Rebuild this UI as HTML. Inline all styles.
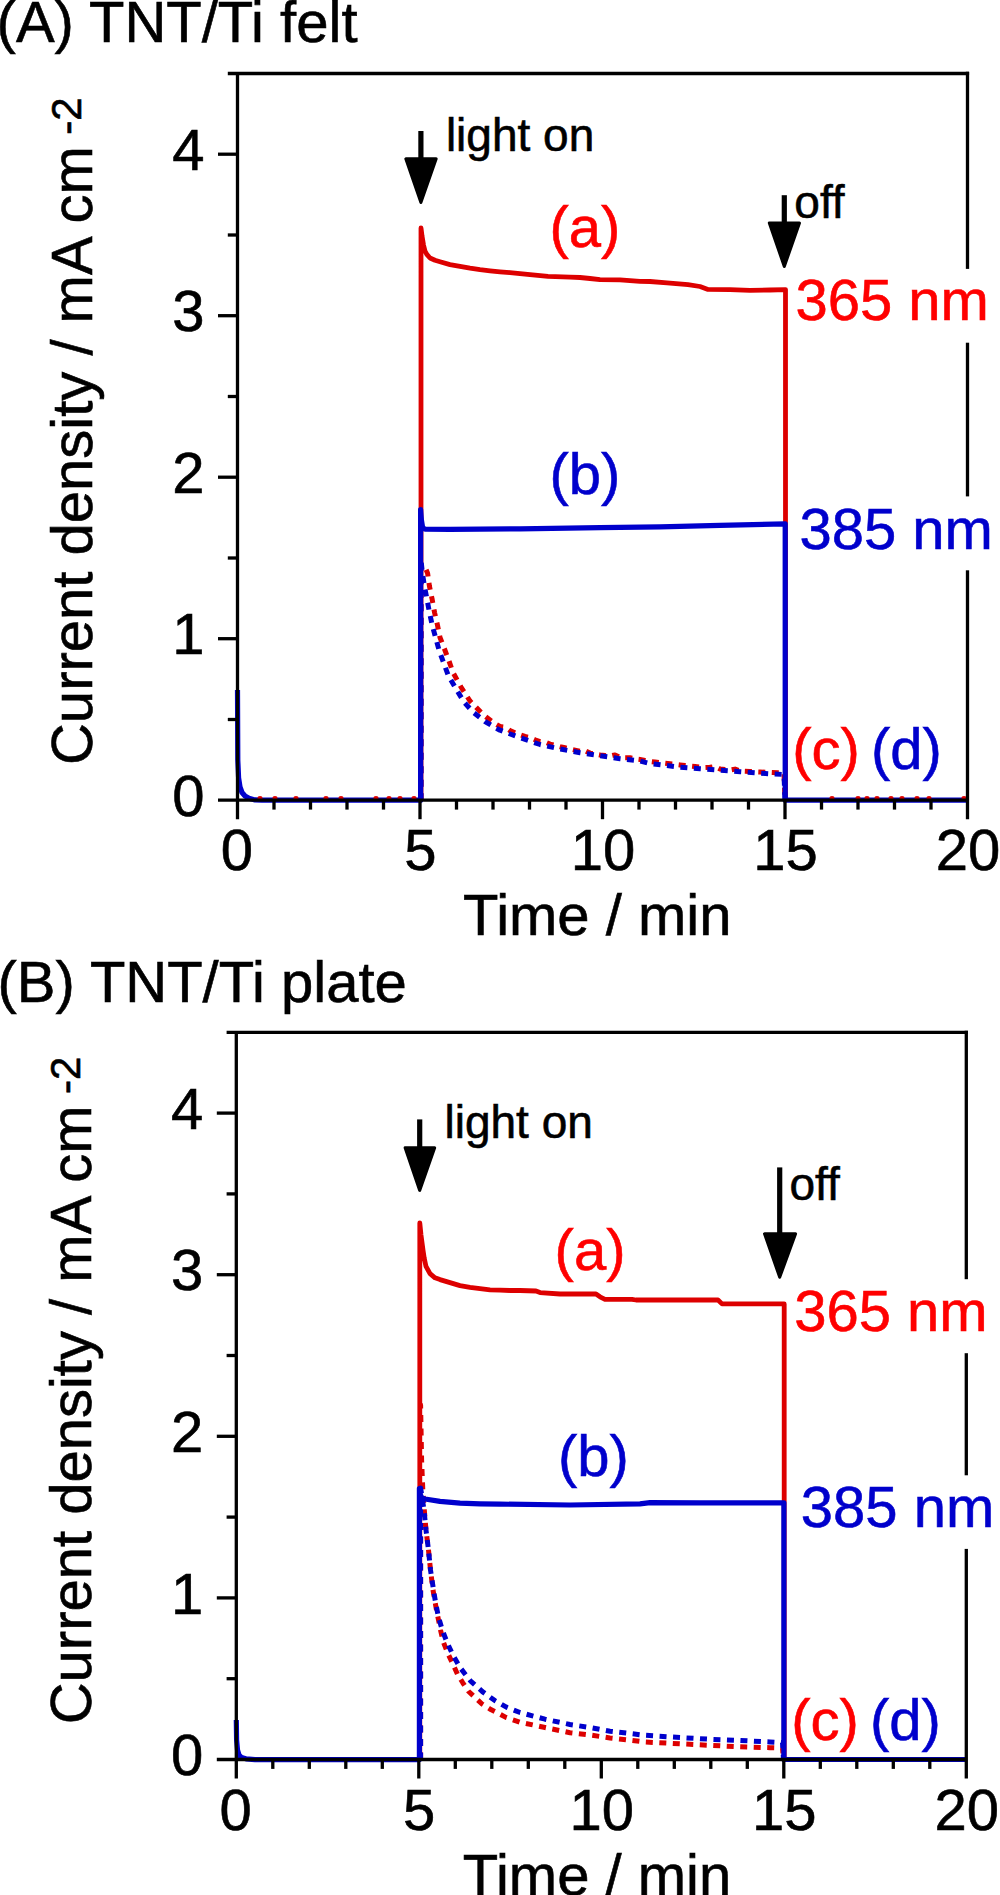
<!DOCTYPE html>
<html><head><meta charset="utf-8"><title>TNT/Ti photocurrent</title>
<style>html,body{margin:0;padding:0;background:#fff;overflow:hidden;}svg{display:block;}</style>
</head><body>
<svg width="1000" height="1895" viewBox="0 0 1000 1895" font-family="'Liberation Sans', Arial, Helvetica, sans-serif" stroke-width="0.6">
<rect width="1000" height="1895" fill="#fff"/>
<g fill="none" stroke-linejoin="round" stroke-linecap="butt">
<polyline points="421.0,800.2 421.0,228.0 422.0,236.0 423.5,245.0 425.0,251.0 426.8,254.4 430.0,258.0 435.0,260.3 440.0,261.8 450.0,264.6 460.0,266.4 470.0,268.2 480.0,269.7 490.0,270.8 500.0,271.8 510.0,272.6 520.0,273.6 530.0,274.7 548.0,276.4 570.0,277.1 580.0,277.5 590.0,278.5 600.0,279.6 620.0,279.9 640.0,281.4 650.0,281.5 667.0,282.9 688.0,284.7 700.0,286.5 708.0,289.4 730.0,289.6 750.0,290.3 770.0,290.0 785.5,289.6 785.5,800.2" stroke="#dd0000" stroke-width="4.8"/>
<polyline points="421.0,800.2 421.0,565.0 424.5,566.0 427.6,573.2 429.4,586.0 432.2,599.6 434.6,612.8 437.4,624.8 440.0,637.5 444.5,649.0 449.0,661.0 453.0,672.5 461.0,687.0 470.0,701.0 483.0,714.5 494.0,723.0 500.0,726.5 505.0,727.1 510.0,730.6 515.0,732.7 520.0,734.7 525.0,736.4 530.0,737.6 535.0,739.8 540.0,741.5 545.0,741.9 550.0,744.1 555.0,745.4 560.0,746.7 565.0,747.8 570.0,749.0 575.0,750.1 580.0,751.2 585.0,750.6 590.0,753.1 595.0,754.0 600.0,755.0 605.0,755.5 610.0,756.1 615.0,754.9 620.0,757.2 625.0,757.8 630.0,757.8 635.0,758.9 640.0,759.5 645.0,760.5 650.0,761.5 655.0,762.1 660.0,762.7 665.0,763.2 670.0,763.8 675.0,764.4 680.0,765.0 685.0,765.5 690.0,766.0 695.0,766.5 700.0,767.0 705.0,767.5 710.0,767.3 715.0,766.4 720.0,769.0 725.0,769.5 730.0,770.0 735.0,769.1 740.0,771.0 745.0,771.2 750.0,771.5 755.0,771.8 760.0,772.0 766.0,772.2 772.0,772.5 778.0,772.8 784.0,773.0 785.0,800.2" stroke="#dd0000" stroke-width="5.0" stroke-dasharray="7 6.5"/>
<polyline points="421.0,800.2 421.0,560.0 422.4,573.0 424.4,586.0 427.0,599.2 429.0,610.0 432.0,624.4 435.5,637.3 439.0,650.0 443.5,662.5 448.5,676.0 455.5,688.0 464.0,702.0 473.0,712.0 485.0,721.5 496.0,728.0 500.0,730.2 520.0,737.7 540.0,744.5 560.0,749.0 580.0,752.7 600.0,755.7 620.0,758.7 640.0,761.0 650.0,763.5 680.0,767.2 700.0,768.7 720.0,770.2 740.0,771.7 760.0,773.2 784.0,774.5 785.0,800.2" stroke="#0000cc" stroke-width="5.0" stroke-dasharray="7 6.5"/>
<polyline points="237.5,690.0 237.8,760.0 238.6,778.0 240.0,787.0 242.0,792.5 245.0,796.0 249.0,798.3 255.0,799.9 262.0,800.2 420.6,800.2 420.6,509.5 421.4,520.0 422.6,527.5 425.0,529.2 450.0,529.3 520.0,528.8 600.0,527.6 660.0,526.8 720.0,525.3 785.2,523.8 785.2,800.2 967.4,800.2" stroke="#0000cc" stroke-width="5.2"/>
<ellipse cx="260.0" cy="797.9" rx="2.6" ry="2.0" fill="#dd0000" stroke="none"/>
<ellipse cx="275.0" cy="797.9" rx="2.6" ry="2.0" fill="#dd0000" stroke="none"/>
<ellipse cx="296.0" cy="797.9" rx="2.6" ry="2.0" fill="#dd0000" stroke="none"/>
<ellipse cx="326.0" cy="797.9" rx="2.6" ry="2.0" fill="#dd0000" stroke="none"/>
<ellipse cx="341.0" cy="797.9" rx="2.6" ry="2.0" fill="#dd0000" stroke="none"/>
<ellipse cx="376.0" cy="797.9" rx="2.6" ry="2.0" fill="#dd0000" stroke="none"/>
<ellipse cx="389.0" cy="797.9" rx="2.6" ry="2.0" fill="#dd0000" stroke="none"/>
<ellipse cx="400.0" cy="797.9" rx="2.6" ry="2.0" fill="#dd0000" stroke="none"/>
<ellipse cx="414.0" cy="797.9" rx="2.6" ry="2.0" fill="#dd0000" stroke="none"/>
<ellipse cx="832.0" cy="797.9" rx="2.6" ry="2.0" fill="#dd0000" stroke="none"/>
<ellipse cx="858.0" cy="797.9" rx="2.6" ry="2.0" fill="#dd0000" stroke="none"/>
<ellipse cx="867.0" cy="797.9" rx="2.6" ry="2.0" fill="#dd0000" stroke="none"/>
<ellipse cx="877.0" cy="797.9" rx="2.6" ry="2.0" fill="#dd0000" stroke="none"/>
<ellipse cx="891.0" cy="797.9" rx="2.6" ry="2.0" fill="#dd0000" stroke="none"/>
<ellipse cx="902.0" cy="797.9" rx="2.6" ry="2.0" fill="#dd0000" stroke="none"/>
<ellipse cx="917.0" cy="797.9" rx="2.6" ry="2.0" fill="#dd0000" stroke="none"/>
<ellipse cx="929.0" cy="797.9" rx="2.6" ry="2.0" fill="#dd0000" stroke="none"/>
<ellipse cx="964.0" cy="797.9" rx="2.6" ry="2.0" fill="#dd0000" stroke="none"/>
</g>
<g stroke="#000" stroke-width="3.3" fill="none">
<line x1="237.5" y1="73.5" x2="237.5" y2="819.2"/>
<line x1="227.8" y1="73.5" x2="969.1" y2="73.5"/>
<line x1="218.0" y1="800.2" x2="967.5" y2="800.2"/>
<line x1="967.5" y1="71.8" x2="967.5" y2="819.2"/>
<line x1="227.8" y1="719.5" x2="237.5" y2="719.5"/>
<line x1="218.0" y1="638.7" x2="237.5" y2="638.7"/>
<line x1="227.8" y1="558.0" x2="237.5" y2="558.0"/>
<line x1="218.0" y1="477.2" x2="237.5" y2="477.2"/>
<line x1="227.8" y1="396.5" x2="237.5" y2="396.5"/>
<line x1="218.0" y1="315.7" x2="237.5" y2="315.7"/>
<line x1="227.8" y1="235.0" x2="237.5" y2="235.0"/>
<line x1="218.0" y1="154.2" x2="237.5" y2="154.2"/>
<line x1="274.0" y1="800.2" x2="274.0" y2="809.6"/>
<line x1="310.5" y1="800.2" x2="310.5" y2="809.6"/>
<line x1="347.0" y1="800.2" x2="347.0" y2="809.6"/>
<line x1="383.5" y1="800.2" x2="383.5" y2="809.6"/>
<line x1="420.0" y1="800.2" x2="420.0" y2="819.2"/>
<line x1="456.5" y1="800.2" x2="456.5" y2="809.6"/>
<line x1="493.0" y1="800.2" x2="493.0" y2="809.6"/>
<line x1="529.5" y1="800.2" x2="529.5" y2="809.6"/>
<line x1="566.0" y1="800.2" x2="566.0" y2="809.6"/>
<line x1="602.5" y1="800.2" x2="602.5" y2="819.2"/>
<line x1="639.0" y1="800.2" x2="639.0" y2="809.6"/>
<line x1="675.5" y1="800.2" x2="675.5" y2="809.6"/>
<line x1="712.0" y1="800.2" x2="712.0" y2="809.6"/>
<line x1="748.5" y1="800.2" x2="748.5" y2="809.6"/>
<line x1="785.0" y1="800.2" x2="785.0" y2="819.2"/>
<line x1="821.5" y1="800.2" x2="821.5" y2="809.6"/>
<line x1="858.0" y1="800.2" x2="858.0" y2="809.6"/>
<line x1="894.5" y1="800.2" x2="894.5" y2="809.6"/>
<line x1="931.0" y1="800.2" x2="931.0" y2="809.6"/>
</g>
<text x="204.5" y="815.8" font-size="58" fill="#000" stroke="#000" text-anchor="end">0</text>
<text x="204.5" y="654.3" font-size="58" fill="#000" stroke="#000" text-anchor="end">1</text>
<text x="204.5" y="492.8" font-size="58" fill="#000" stroke="#000" text-anchor="end">2</text>
<text x="204.5" y="331.3" font-size="58" fill="#000" stroke="#000" text-anchor="end">3</text>
<text x="204.5" y="169.8" font-size="58" fill="#000" stroke="#000" text-anchor="end">4</text>
<text x="236.8" y="870.2" font-size="58" fill="#000" stroke="#000" text-anchor="middle">0</text>
<text x="420.4" y="870.2" font-size="58" fill="#000" stroke="#000" text-anchor="middle">5</text>
<text x="602.9" y="870.2" font-size="58" fill="#000" stroke="#000" text-anchor="middle">10</text>
<text x="785.4" y="870.2" font-size="58" fill="#000" stroke="#000" text-anchor="middle">15</text>
<text x="967.9" y="870.2" font-size="58" fill="#000" stroke="#000" text-anchor="middle">20</text>
<text x="91.7" y="765.0" font-size="58" stroke="#000" transform="rotate(-90 91.7 765.0)">Current density / mA cm</text>
<text x="81.2" y="134.7" font-size="42" stroke="#000" transform="rotate(-90 81.2 134.7)">-2</text>
<text x="462.9" y="934.5" font-size="58" fill="#000" stroke="#000">Time / min</text>
<text x="-3.4" y="42.4" font-size="58" fill="#000" stroke="#000">(A) TNT/Ti felt</text>
<line x1="420.9" y1="131.0" x2="420.9" y2="160.2" stroke="#000" stroke-width="5.2"/>
<polygon points="405.8,158.8 436.2,158.8 420.9,202.5" fill="#000" stroke="#000" stroke-width="3" stroke-linejoin="round"/>
<line x1="784.3" y1="195.2" x2="784.3" y2="224.5" stroke="#000" stroke-width="5.2"/>
<polygon points="769.3,223.0 799.5,223.0 784.3,266.5" fill="#000" stroke="#000" stroke-width="3" stroke-linejoin="round"/>
<text x="445.9" y="150.7" font-size="46" fill="#000" stroke="#000">light on</text>
<text x="794.3" y="218.0" font-size="46" fill="#000" stroke="#000">off</text>
<text x="549.5" y="247.0" font-size="58" fill="#ff0000" stroke="#ff0000">(a)</text>
<rect x="791" y="268.9" width="204" height="73.80000000000001" fill="#fff"/>
<text x="795.4" y="320.2" font-size="58" fill="#ff0000" stroke="#ff0000">365 nm</text>
<text x="549.4" y="494.0" font-size="58" fill="#0000cc" stroke="#0000cc">(b)</text>
<rect x="795" y="496.4" width="203" height="73.89999999999998" fill="#fff"/>
<text x="799.4" y="548.7" font-size="58" fill="#0000cc" stroke="#0000cc">385 nm</text>
<text x="792.2" y="768.5" font-size="58" fill="#ff0000" stroke="#ff0000">(c)</text>
<text x="870.9" y="768.5" font-size="58" fill="#0000cc" stroke="#0000cc">(d)</text>
<g fill="none" stroke-linejoin="round" stroke-linecap="butt">
<polyline points="419.8,1759.5 419.8,1223.0 421.0,1235.0 423.0,1250.0 424.2,1258.0 426.0,1266.4 430.0,1273.6 435.0,1277.8 440.0,1279.6 450.0,1282.6 460.0,1285.6 470.0,1287.4 480.0,1288.6 490.0,1289.8 500.0,1290.2 510.0,1290.5 520.0,1290.5 536.0,1291.0 540.0,1292.6 560.0,1294.0 596.0,1294.0 600.0,1296.8 605.0,1299.3 632.0,1299.3 636.0,1300.0 718.0,1300.0 722.0,1303.9 784.2,1303.9 784.2,1759.5" stroke="#dd0000" stroke-width="4.8"/>
<polyline points="420.6,1759.5 420.6,1405.0 421.6,1460.0 422.8,1490.0 424.3,1510.0 426.0,1530.0 428.5,1550.0 430.5,1570.0 433.0,1590.0 436.5,1610.0 440.5,1630.0 443.2,1641.6 447.6,1652.8 453.2,1664.8 457.6,1674.4 462.8,1682.8 468.4,1691.2 475.2,1697.6 482.0,1704.0 490.8,1709.6 498.8,1713.6 506.4,1717.6 520.0,1722.2 545.0,1727.5 570.0,1732.7 590.0,1735.0 610.0,1738.0 630.0,1740.2 645.0,1742.0 680.0,1743.8 710.0,1745.3 740.0,1746.8 770.0,1747.7 782.5,1748.0 783.5,1759.5" stroke="#dd0000" stroke-width="5.0" stroke-dasharray="7 6.5"/>
<polyline points="420.6,1759.5 420.6,1488.0 422.5,1500.0 424.0,1510.0 426.0,1530.0 428.5,1550.0 430.5,1570.0 433.8,1591.8 435.6,1602.6 438.4,1616.8 442.2,1629.8 447.2,1642.8 453.2,1655.6 460.4,1668.0 470.4,1680.8 482.4,1691.6 495.2,1700.8 506.4,1707.2 520.0,1712.5 545.0,1719.2 570.0,1724.5 590.0,1727.5 610.0,1731.2 630.0,1733.5 645.0,1735.3 680.0,1737.5 710.0,1739.3 740.0,1740.5 770.0,1742.0 782.5,1742.7 783.5,1759.5" stroke="#0000cc" stroke-width="5.0" stroke-dasharray="7 6.5"/>
<polyline points="236.3,1720.0 236.6,1740.0 237.5,1750.0 239.0,1755.0 241.5,1757.6 246.0,1758.8 255.0,1759.6 419.4,1759.6 419.4,1488.5 420.4,1495.0 422.0,1498.0 425.0,1499.0 440.0,1501.4 460.0,1503.2 480.0,1503.8 500.0,1504.1 570.0,1505.0 640.0,1503.8 650.0,1502.7 700.0,1502.8 783.9,1502.9 783.9,1759.5 966.3,1759.5" stroke="#0000cc" stroke-width="5.2"/>
</g>
<g stroke="#000" stroke-width="3.3" fill="none">
<line x1="236.3" y1="1032.3" x2="236.3" y2="1778.5"/>
<line x1="226.6" y1="1032.3" x2="967.9" y2="1032.3"/>
<line x1="216.8" y1="1759.5" x2="966.3" y2="1759.5"/>
<line x1="966.3" y1="1030.7" x2="966.3" y2="1778.5"/>
<line x1="226.6" y1="1678.7" x2="236.3" y2="1678.7"/>
<line x1="216.8" y1="1597.9" x2="236.3" y2="1597.9"/>
<line x1="226.6" y1="1517.1" x2="236.3" y2="1517.1"/>
<line x1="216.8" y1="1436.3" x2="236.3" y2="1436.3"/>
<line x1="226.6" y1="1355.5" x2="236.3" y2="1355.5"/>
<line x1="216.8" y1="1274.7" x2="236.3" y2="1274.7"/>
<line x1="226.6" y1="1193.9" x2="236.3" y2="1193.9"/>
<line x1="216.8" y1="1113.1" x2="236.3" y2="1113.1"/>
<line x1="272.8" y1="1759.5" x2="272.8" y2="1768.9"/>
<line x1="309.3" y1="1759.5" x2="309.3" y2="1768.9"/>
<line x1="345.8" y1="1759.5" x2="345.8" y2="1768.9"/>
<line x1="382.3" y1="1759.5" x2="382.3" y2="1768.9"/>
<line x1="418.8" y1="1759.5" x2="418.8" y2="1778.5"/>
<line x1="455.3" y1="1759.5" x2="455.3" y2="1768.9"/>
<line x1="491.8" y1="1759.5" x2="491.8" y2="1768.9"/>
<line x1="528.3" y1="1759.5" x2="528.3" y2="1768.9"/>
<line x1="564.8" y1="1759.5" x2="564.8" y2="1768.9"/>
<line x1="601.3" y1="1759.5" x2="601.3" y2="1778.5"/>
<line x1="637.8" y1="1759.5" x2="637.8" y2="1768.9"/>
<line x1="674.3" y1="1759.5" x2="674.3" y2="1768.9"/>
<line x1="710.8" y1="1759.5" x2="710.8" y2="1768.9"/>
<line x1="747.3" y1="1759.5" x2="747.3" y2="1768.9"/>
<line x1="783.8" y1="1759.5" x2="783.8" y2="1778.5"/>
<line x1="820.3" y1="1759.5" x2="820.3" y2="1768.9"/>
<line x1="856.8" y1="1759.5" x2="856.8" y2="1768.9"/>
<line x1="893.3" y1="1759.5" x2="893.3" y2="1768.9"/>
<line x1="929.8" y1="1759.5" x2="929.8" y2="1768.9"/>
</g>
<text x="203.3" y="1775.1" font-size="58" fill="#000" stroke="#000" text-anchor="end">0</text>
<text x="203.3" y="1613.5" font-size="58" fill="#000" stroke="#000" text-anchor="end">1</text>
<text x="203.3" y="1451.9" font-size="58" fill="#000" stroke="#000" text-anchor="end">2</text>
<text x="203.3" y="1290.3" font-size="58" fill="#000" stroke="#000" text-anchor="end">3</text>
<text x="203.3" y="1128.7" font-size="58" fill="#000" stroke="#000" text-anchor="end">4</text>
<text x="235.6" y="1829.5" font-size="58" fill="#000" stroke="#000" text-anchor="middle">0</text>
<text x="419.2" y="1829.5" font-size="58" fill="#000" stroke="#000" text-anchor="middle">5</text>
<text x="601.7" y="1829.5" font-size="58" fill="#000" stroke="#000" text-anchor="middle">10</text>
<text x="784.2" y="1829.5" font-size="58" fill="#000" stroke="#000" text-anchor="middle">15</text>
<text x="966.7" y="1829.5" font-size="58" fill="#000" stroke="#000" text-anchor="middle">20</text>
<text x="90.8" y="1724.3" font-size="58" stroke="#000" transform="rotate(-90 90.8 1724.3)">Current density / mA cm</text>
<text x="80.3" y="1094.0" font-size="42" stroke="#000" transform="rotate(-90 80.3 1094.0)">-2</text>
<text x="462.7" y="1894.5" font-size="58" fill="#000" stroke="#000">Time / min</text>
<text x="-2.5" y="1002.2" font-size="58" fill="#000" stroke="#000">(B) TNT/Ti plate</text>
<line x1="419.7" y1="1119.4" x2="419.7" y2="1149.2" stroke="#000" stroke-width="5.2"/>
<polygon points="405.1,1147.7 434.7,1147.7 419.7,1190.4" fill="#000" stroke="#000" stroke-width="3" stroke-linejoin="round"/>
<line x1="779.7" y1="1167.4" x2="779.7" y2="1235.3" stroke="#000" stroke-width="5.2"/>
<polygon points="764.5,1233.8 795.6,1233.8 779.7,1277.3" fill="#000" stroke="#000" stroke-width="3" stroke-linejoin="round"/>
<text x="444.5" y="1137.8" font-size="46" fill="#000" stroke="#000">light on</text>
<text x="789.4" y="1199.5" font-size="46" fill="#000" stroke="#000">off</text>
<text x="554.6" y="1270.0" font-size="58" fill="#ff0000" stroke="#ff0000">(a)</text>
<rect x="790" y="1279.2" width="205" height="74.0" fill="#fff"/>
<text x="794.2" y="1331.0" font-size="58" fill="#ff0000" stroke="#ff0000">365 nm</text>
<text x="557.9" y="1476.0" font-size="58" fill="#0000cc" stroke="#0000cc">(b)</text>
<rect x="796" y="1475.3" width="202" height="73.60000000000014" fill="#fff"/>
<text x="800.8" y="1527.1" font-size="58" fill="#0000cc" stroke="#0000cc">385 nm</text>
<text x="791.2" y="1740.2" font-size="58" fill="#ff0000" stroke="#ff0000">(c)</text>
<text x="870.0" y="1740.2" font-size="58" fill="#0000cc" stroke="#0000cc">(d)</text>
</svg>
</body></html>
